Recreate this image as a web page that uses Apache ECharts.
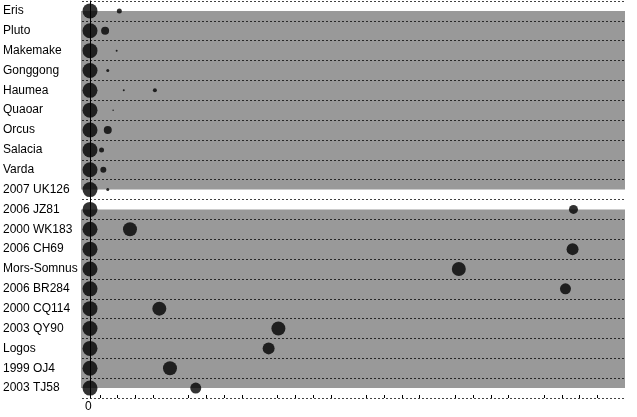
<!DOCTYPE html><html><head><meta charset="utf-8"><script src="https://cdn.jsdelivr.net/npm/echarts@6/dist/echarts.min.js"></script>
<style>body{margin:0}#c{width:637px;height:417px}</style></head><body><div id="c"></div><script>
const categories=['Eris','Pluto','Makemake','Gonggong','Haumea','Quaoar','Orcus','Salacia','Varda','2007 UK126','2006 JZ81','2000 WK183','2006 CH69','Mors-Somnus','2006 BR284','2000 CQ114','2003 QY90','Logos','1999 OJ4','2003 TJ58'];
const primarySize=[15,15,15,15,15,15,15,15,15,15,15,15,15,15,15,15,15,15,15,15];
// satellites: [category, semi-major axis, marker size]
const satCat=['Eris','Pluto','Makemake','Gonggong','Haumea','Haumea','Quaoar','Orcus','Salacia','Varda','2007 UK126','2006 JZ81','2000 WK183','2006 CH69','Mors-Somnus','2006 BR284','2000 CQ114','2003 QY90','Logos','1999 OJ4','2003 TJ58'];
const satA=[33,17,30,20,38,73,26,20,13,15,20,544,45,543,415,535,78,212,201,90,119];
const satSize=[5,8,2,3,2,4,1.5,8,5,6,3,9,14,12,14,11,14,14,12,14,11];
const ch=echarts.init(document.getElementById('c'));
const prim=categories.map((c,i)=>[0,c,primarySize[i]]);
const sats=satCat.map((c,i)=>[satA[i],c,satSize[i]]);
ch.setOption({animation:false,
grid:{left:81,right:12,top:1,bottom:19,show:false},
xAxis:{type:'value',min:-9,max:602,interval:100,position:'bottom',
 axisLine:{onZero:false,lineStyle:{color:'#000'}},axisTick:{inside:true,length:6,lineStyle:{color:'#000'}},
 minorTick:{show:true,splitNumber:5,length:3,lineStyle:{color:'#000'}},
 axisLabel:{show:false},splitLine:{show:false}},
yAxis:{type:'category',data:categories,inverse:true,
 axisLine:{lineStyle:{color:'#000'}},axisTick:{show:false},
 axisLabel:{align:'left',margin:79,color:'#000',fontSize:12,fontFamily:'Liberation Sans'},
 splitLine:{show:true,lineStyle:{type:[2,2],color:'#444'}}},
graphic:[
 {type:'text',left:81+ (0+9)/611*544-4,top:401,style:{text:'0',fontSize:12,fontFamily:'Liberation Sans'}}
],
series:[
 {type:'scatter',data:prim,symbolSize:v=>v[2],itemStyle:{color:'#000'},z:3,
  markArea:{silent:true,data:[
   [{yAxis:'Eris',x:81},{yAxis:'2007 UK126',x:625}],
   [{yAxis:'2006 JZ81',x:81},{yAxis:'2003 TJ58',x:625}]]}},
 {type:'scatter',data:sats,symbolSize:v=>v[2],itemStyle:{color:'#000'},z:3}
]});
</script></body></html>
